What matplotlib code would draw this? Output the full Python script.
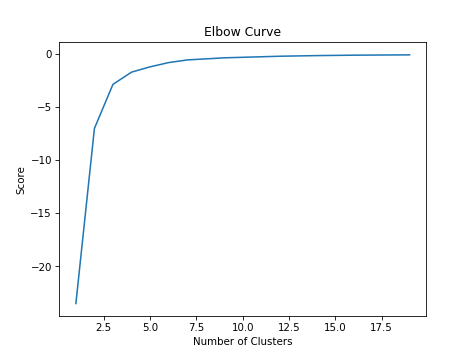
import matplotlib
matplotlib.use("Agg")
import matplotlib.pyplot as plt

n_clusters = list(range(1, 20))
scores = [-23.5, -7.0, -2.85, -1.7, -1.2, -0.8, -0.55, -0.45, -0.35, -0.3,
          -0.25, -0.2, -0.17, -0.14, -0.12, -0.1, -0.09, -0.08, -0.07]

fig, ax = plt.subplots(figsize=(6.4, 4.8), dpi=74)
ax.plot(n_clusters, scores)
ax.set_xlabel("Number of Clusters")
ax.set_ylabel("Score")
ax.set_title("Elbow Curve")
fig.savefig("out.png", dpi=74)
